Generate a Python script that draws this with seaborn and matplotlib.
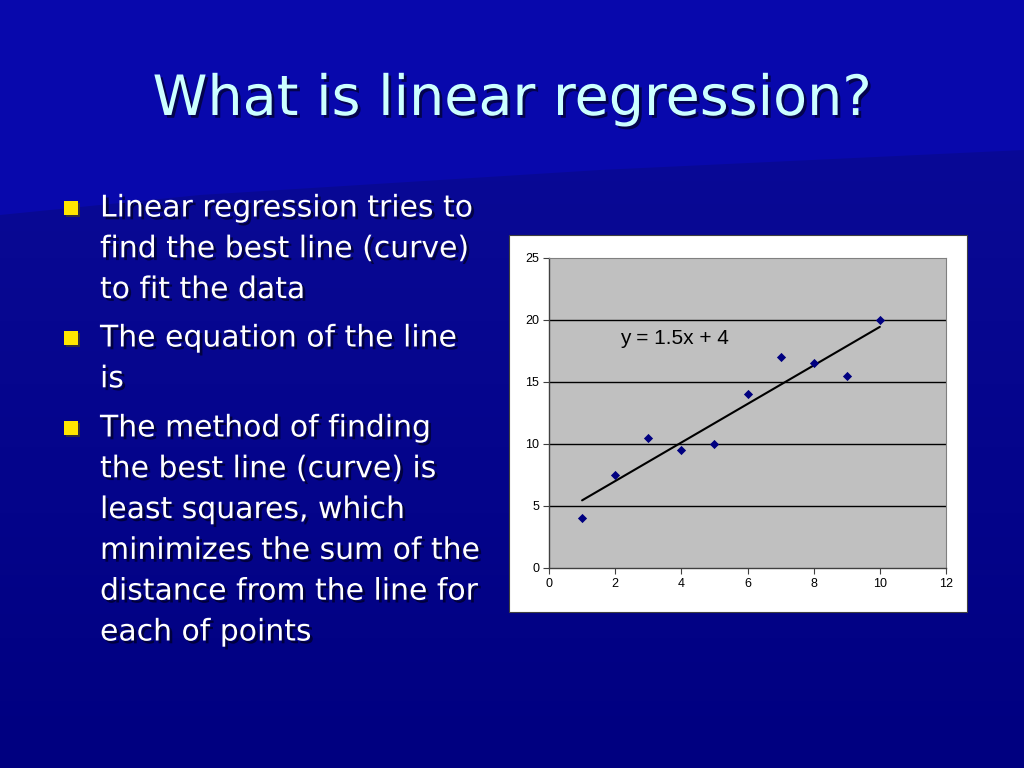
import numpy as np
import pandas as pd
import matplotlib
matplotlib.use("Agg")
import matplotlib.pyplot as plt
import matplotlib.patheffects as pe
from matplotlib.patches import Rectangle, Polygon
import seaborn as sns

# data
x_vals = [1, 2, 3, 4, 5, 6, 7, 8, 9, 10]
y_vals = [4, 7.5, 10.5, 9.5, 10, 14, 17, 16.5, 15.5, 20]
x_ticks = [0, 2, 4, 6, 8, 10, 12]
y_ticks = [0, 5, 10, 15, 20, 25]

title = "What is linear regression?"
bullets = [
    ["Linear regression tries to", "find the best line (curve)", "to fit the data"],
    ["The equation of the line", "is"],
    ["The method of finding", "the best line (curve) is", "least squares, which",
     "minimizes the sum of the", "distance from the line for", "each of points"],
]
equation = "y = 1.5x + 4"

df = pd.DataFrame({"x": x_vals, "y": y_vals})

sns.set_theme(style="white")
plt.rcParams["font.family"] = ["DejaVu Sans"]

W, H = 1024, 768
fig = plt.figure(figsize=(W / 100, H / 100), dpi=100)

# slide background
bg = fig.add_axes([0, 0, 1, 1])
bg.set_xlim(0, W)
bg.set_ylim(H, 0)
bg.axis("off")
grad = np.linspace(0, 1, 256).reshape(-1, 1)
cmap = matplotlib.colors.LinearSegmentedColormap.from_list(
    "slide", ["#0a0a9c", "#080892", "#04048a", "#000080"])
bg.imshow(grad, cmap=cmap, extent=[0, W, H, 0], aspect="auto", zorder=0)
bg.add_patch(Polygon([[0, 0], [W, 0], [W, 150], [600, 170], [200, 195], [0, 215]],
                     closed=True, facecolor="#0808ac", edgecolor="none", zorder=1))

shadow = [pe.withSimplePatchShadow(offset=(2, -2), shadow_rgbFace="black", alpha=0.55)]

bg.text(512, 100, title, color="#ccffff", fontsize=40, ha="center", va="center",
        path_effects=shadow, zorder=3)

line_h = 40.8
starts = [208, 338, 428]
for start, lines in zip(starts, bullets):
    bg.add_patch(Rectangle((64, start - 7), 14, 14, facecolor="#ffe600",
                           edgecolor="none", zorder=3,
                           path_effects=[pe.withSimplePatchShadow(offset=(1.5, -1.5), alpha=0.6)]))
    for i, ln in enumerate(lines):
        bg.text(100, start + i * line_h, ln, color="white", fontsize=21.5,
                ha="left", va="center", path_effects=shadow, zorder=3)

# white chart box
bg.add_patch(Rectangle((509, 235), 458, 377, facecolor="white",
                       edgecolor="#404040", linewidth=0.8, zorder=2))

# chart
ax = fig.add_axes([549 / W, 1 - 568 / H, (946 - 549) / W, (568 - 258) / H])
ax.set_facecolor("#c0c0c0")
for yv in y_ticks[1:-1]:
    ax.axhline(yv, color="black", linewidth=1, zorder=1)
sns.regplot(data=df, x="x", y="y", ci=None, ax=ax, truncate=True, marker="D",
            scatter_kws=dict(s=22, color="#000080", alpha=1, zorder=3, linewidths=0),
            line_kws=dict(color="black", linewidth=1.5, zorder=2))
ax.set_xlim(0, 12)
ax.set_ylim(0, 25)
ax.set_xticks(x_ticks)
ax.set_yticks(y_ticks)
ax.set_xlabel("")
ax.set_ylabel("")
ax.tick_params(axis="both", direction="out", length=4, width=0.8, color="#404040",
               labelsize=9, labelcolor="black", pad=3, bottom=True, left=True)
for lab in ax.get_xticklabels() + ax.get_yticklabels():
    lab.set_family(["Liberation Sans", "DejaVu Sans"])
for side in ["left", "bottom"]:
    ax.spines[side].set_color("#404040")
    ax.spines[side].set_linewidth(1)
for side in ["top", "right"]:
    ax.spines[side].set_color("#808080")
    ax.spines[side].set_linewidth(0.8)
ax.text(2.15, 18.5, equation, fontsize=15, ha="left", va="center",
        family=["Liberation Sans", "DejaVu Sans"], color="black")

fig.savefig("out.png", dpi=100)
